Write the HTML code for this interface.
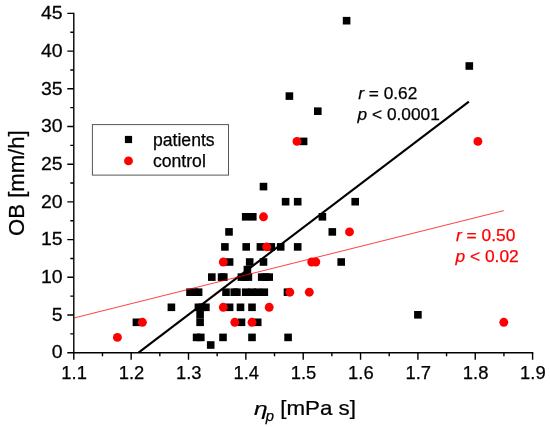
<!DOCTYPE html>
<html><head><meta charset="utf-8"><title>OB vs plasma viscosity</title>
<style>html,body{margin:0;padding:0;background:#fff}svg{display:block}text{font-family:"Liberation Sans",sans-serif;stroke-width:0.25px}</style></head><body>
<svg width="550" height="427" viewBox="0 0 550 427">
<rect width="550" height="427" fill="#fff"/>
<g stroke="#000" stroke-width="1.4" fill="none" stroke-linecap="square">
<path d="M73.8 13.40V352.7H532.60"/>
<path d="M67.3 352.70H73.8M70.3 333.85H73.8M67.3 315.00H73.8M70.3 296.15H73.8M67.3 277.30H73.8M70.3 258.45H73.8M67.3 239.60H73.8M70.3 220.75H73.8M67.3 201.90H73.8M70.3 183.05H73.8M67.3 164.20H73.8M70.3 145.35H73.8M67.3 126.50H73.8M70.3 107.65H73.8M67.3 88.80H73.8M70.3 69.95H73.8M67.3 51.10H73.8M70.3 32.25H73.8M67.3 13.40H73.8M73.80 352.7V359.7M102.47 352.7V356.2M131.15 352.7V359.7M159.82 352.7V356.2M188.50 352.7V359.7M217.17 352.7V356.2M245.85 352.7V359.7M274.52 352.7V356.2M303.20 352.7V359.7M331.87 352.7V356.2M360.55 352.7V359.7M389.22 352.7V356.2M417.90 352.7V359.7M446.57 352.7V356.2M475.25 352.7V359.7M503.93 352.7V356.2M532.60 352.7V359.7" stroke-linecap="butt"/>
</g>
<g font-size="18.4" fill="#000" stroke="#000">
<text transform="translate(62.6 358.4) scale(1.06 1)" text-anchor="end">0</text>
<text transform="translate(62.6 320.7) scale(1.06 1)" text-anchor="end">5</text>
<text transform="translate(62.6 283.0) scale(1.06 1)" text-anchor="end">10</text>
<text transform="translate(62.6 245.3) scale(1.06 1)" text-anchor="end">15</text>
<text transform="translate(62.6 207.6) scale(1.06 1)" text-anchor="end">20</text>
<text transform="translate(62.6 169.9) scale(1.06 1)" text-anchor="end">25</text>
<text transform="translate(62.6 132.2) scale(1.06 1)" text-anchor="end">30</text>
<text transform="translate(62.6 94.5) scale(1.06 1)" text-anchor="end">35</text>
<text transform="translate(62.6 56.8) scale(1.06 1)" text-anchor="end">40</text>
<text transform="translate(62.6 19.1) scale(1.06 1)" text-anchor="end">45</text>
<text x="74.1" y="378.7" text-anchor="middle">1.1</text>
<text x="131.5" y="378.7" text-anchor="middle">1.2</text>
<text x="188.8" y="378.7" text-anchor="middle">1.3</text>
<text x="246.2" y="378.7" text-anchor="middle">1.4</text>
<text x="303.5" y="378.7" text-anchor="middle">1.5</text>
<text x="360.9" y="378.7" text-anchor="middle">1.6</text>
<text x="418.2" y="378.7" text-anchor="middle">1.7</text>
<text x="475.6" y="378.7" text-anchor="middle">1.8</text>
<text x="532.9" y="378.7" text-anchor="middle">1.9</text>
</g>
<g transform="translate(0.4 -0.2)"><g fill="#000">
<rect x="132.2" y="318.7" width="7.6" height="7.6"/>
<rect x="167.2" y="303.7" width="7.6" height="7.6"/>
<rect x="185.8" y="288.6" width="7.6" height="7.6"/>
<rect x="190.1" y="288.6" width="7.6" height="7.6"/>
<rect x="194.4" y="288.6" width="7.6" height="7.6"/>
<rect x="194.2" y="303.7" width="7.6" height="7.6"/>
<rect x="197.9" y="303.7" width="7.6" height="7.6"/>
<rect x="201.7" y="303.7" width="7.6" height="7.6"/>
<rect x="195.9" y="311.2" width="7.6" height="7.6"/>
<rect x="195.9" y="318.7" width="7.6" height="7.6"/>
<rect x="192.4" y="333.8" width="7.6" height="7.6"/>
<rect x="196.6" y="333.8" width="7.6" height="7.6"/>
<rect x="206.5" y="341.4" width="7.6" height="7.6"/>
<rect x="207.6" y="273.5" width="7.6" height="7.6"/>
<rect x="217.4" y="273.5" width="7.6" height="7.6"/>
<rect x="219.6" y="273.5" width="7.6" height="7.6"/>
<rect x="221.8" y="288.6" width="7.6" height="7.6"/>
<rect x="230.0" y="288.6" width="7.6" height="7.6"/>
<rect x="232.7" y="288.6" width="7.6" height="7.6"/>
<rect x="220.7" y="243.3" width="7.6" height="7.6"/>
<rect x="224.8" y="228.3" width="7.6" height="7.6"/>
<rect x="225.4" y="258.4" width="7.6" height="7.6"/>
<rect x="225.4" y="303.7" width="7.6" height="7.6"/>
<rect x="218.8" y="333.8" width="7.6" height="7.6"/>
<rect x="236.3" y="303.7" width="7.6" height="7.6"/>
<rect x="237.3" y="318.7" width="7.6" height="7.6"/>
<rect x="237.2" y="273.5" width="7.6" height="7.6"/>
<rect x="240.6" y="273.5" width="7.6" height="7.6"/>
<rect x="244.2" y="273.5" width="7.6" height="7.6"/>
<rect x="243.2" y="266.0" width="7.6" height="7.6"/>
<rect x="245.5" y="258.4" width="7.6" height="7.6"/>
<rect x="241.5" y="288.6" width="7.6" height="7.6"/>
<rect x="247.8" y="288.6" width="7.6" height="7.6"/>
<rect x="253.5" y="288.6" width="7.6" height="7.6"/>
<rect x="260.1" y="288.6" width="7.6" height="7.6"/>
<rect x="247.8" y="303.7" width="7.6" height="7.6"/>
<rect x="253.5" y="318.7" width="7.6" height="7.6"/>
<rect x="247.8" y="333.8" width="7.6" height="7.6"/>
<rect x="242.0" y="243.3" width="7.6" height="7.6"/>
<rect x="256.2" y="243.3" width="7.6" height="7.6"/>
<rect x="267.1" y="243.3" width="7.6" height="7.6"/>
<rect x="276.5" y="243.3" width="7.6" height="7.6"/>
<rect x="293.5" y="243.3" width="7.6" height="7.6"/>
<rect x="241.5" y="213.2" width="7.6" height="7.6"/>
<rect x="248.6" y="213.2" width="7.6" height="7.6"/>
<rect x="259.3" y="183.0" width="7.6" height="7.6"/>
<rect x="259.3" y="258.4" width="7.6" height="7.6"/>
<rect x="257.5" y="273.5" width="7.6" height="7.6"/>
<rect x="261.3" y="273.5" width="7.6" height="7.6"/>
<rect x="265.0" y="273.5" width="7.6" height="7.6"/>
<rect x="281.4" y="198.1" width="7.6" height="7.6"/>
<rect x="293.5" y="198.1" width="7.6" height="7.6"/>
<rect x="351.0" y="198.1" width="7.6" height="7.6"/>
<rect x="283.3" y="288.6" width="7.6" height="7.6"/>
<rect x="283.9" y="333.8" width="7.6" height="7.6"/>
<rect x="285.2" y="92.5" width="7.6" height="7.6"/>
<rect x="313.6" y="107.6" width="7.6" height="7.6"/>
<rect x="299.4" y="137.8" width="7.6" height="7.6"/>
<rect x="342.4" y="17.1" width="7.6" height="7.6"/>
<rect x="465.1" y="62.4" width="7.6" height="7.6"/>
<rect x="318.2" y="213.2" width="7.6" height="7.6"/>
<rect x="328.1" y="228.3" width="7.6" height="7.6"/>
<rect x="337.0" y="258.4" width="7.6" height="7.6"/>
<rect x="413.7" y="311.2" width="7.6" height="7.6"/>
</g><g fill="#f00">
<circle cx="117.0" cy="337.6" r="4.45"/>
<circle cx="142.0" cy="322.5" r="4.45"/>
<circle cx="222.9" cy="262.2" r="4.45"/>
<circle cx="222.9" cy="307.5" r="4.45"/>
<circle cx="234.4" cy="322.5" r="4.45"/>
<circle cx="251.6" cy="322.5" r="4.45"/>
<circle cx="263.1" cy="217.0" r="4.45"/>
<circle cx="266.3" cy="247.1" r="4.45"/>
<circle cx="268.8" cy="307.5" r="4.45"/>
<circle cx="289.4" cy="292.4" r="4.45"/>
<circle cx="296.6" cy="141.6" r="4.45"/>
<circle cx="308.9" cy="292.4" r="4.45"/>
<circle cx="311.3" cy="262.2" r="4.45"/>
<circle cx="315.4" cy="262.2" r="4.45"/>
<circle cx="349.1" cy="232.1" r="4.45"/>
<circle cx="477.5" cy="141.6" r="4.45"/>
<circle cx="503.4" cy="322.5" r="4.45"/>
</g></g>
<line x1="138.5" y1="352.7" x2="468.9" y2="101.6" stroke="#000" stroke-width="2.1"/>
<line x1="73.8" y1="318.0" x2="503.8" y2="210.6" stroke="#f00" stroke-width="0.75"/>
<rect x="92.4" y="124.6" width="136.1" height="50.5" fill="#fff" stroke="#555" stroke-width="1"/>
<rect x="124.9" y="135.9" width="7.2" height="7.2" fill="#000"/>
<circle cx="128.5" cy="160.9" r="4.45" fill="#f00"/>
<g font-size="17.6" fill="#000" stroke="#000"><text x="153" y="145.5">patients</text><text x="153" y="166.7">control</text></g>
<g font-size="17.3" fill="#000" stroke="#000"><text x="358.2" y="99.4"><tspan font-style="italic">r</tspan> = 0.62</text><text x="357.6" y="120.3"><tspan font-style="italic">p</tspan> &lt; 0.0001</text></g>
<g font-size="17.35" fill="#f00" stroke="#f00"><text x="456" y="240.9"><tspan font-style="italic">r</tspan> = 0.50</text><text x="455.5" y="261.6"><tspan font-style="italic">p</tspan> &lt; 0.02</text></g>
<text transform="translate(24 235.9) rotate(-90)" font-size="22.1" fill="#000" stroke="#000">OB [mm/h]</text>
<g fill="#000" stroke="#000"><text transform="translate(254 415.2) scale(1.07 0.82)" font-family="'Liberation Serif','DejaVu Serif',serif" font-style="italic" font-size="23">η</text><text x="265.7" y="420.9" font-style="italic" font-size="14.8">p</text><text transform="translate(280.2 414.6) scale(1.02 0.95)" font-size="21.9">[mPa s]</text></g>
</svg></body></html>
